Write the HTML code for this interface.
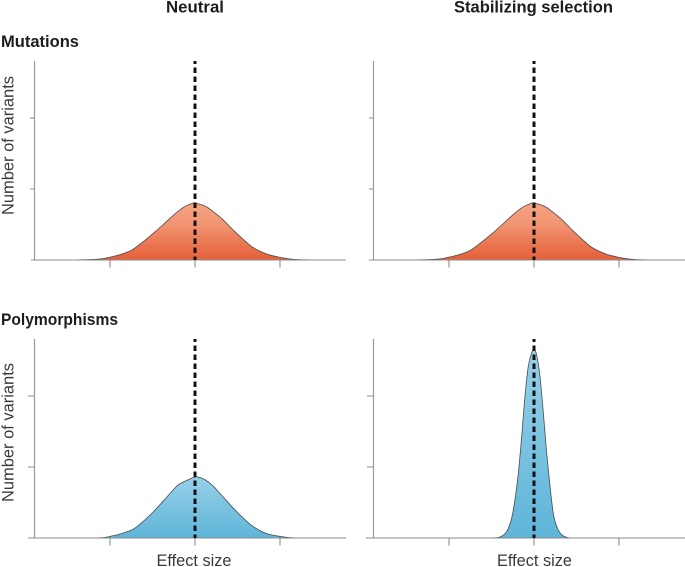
<!DOCTYPE html>
<html>
<head>
<meta charset="utf-8">
<title>Effect size distributions</title>
<style>
html,body{margin:0;padding:0;background:#fff;width:685px;height:567px;overflow:hidden}
svg{display:block}
text{font-family:"Liberation Sans",sans-serif;fill:#2b2b2b}
.head{font-weight:bold;font-size:16.5px;fill:#1d1d1b}
.lab{font-size:17px;fill:#3a3a3a}
</style>
</head>
<body>
<svg id="chart" width="685" height="567" viewBox="0 0 685 567" xmlns="http://www.w3.org/2000/svg">
  <defs>
    <linearGradient id="orangeFill" x1="0" y1="0" x2="0" y2="1">
      <stop offset="0" stop-color="#f5a382"/>
      <stop offset="0.35" stop-color="#f29674"/>
      <stop offset="1" stop-color="#e55f39"/>
    </linearGradient>
    <linearGradient id="blueFill" x1="0" y1="0" x2="0" y2="1">
      <stop offset="0" stop-color="#96d0e8"/>
      <stop offset="1" stop-color="#5fb5d9"/>
    </linearGradient>
  </defs>

  <text class="head" x="166" y="12.5" textLength="58" lengthAdjust="spacingAndGlyphs">Neutral</text>
  <text class="head" x="454" y="12.5" textLength="159" lengthAdjust="spacingAndGlyphs">Stabilizing selection</text>
  <text class="head" x="1" y="47" textLength="78" lengthAdjust="spacingAndGlyphs">Mutations</text>
  <text class="head" x="1" y="325" textLength="117" lengthAdjust="spacingAndGlyphs">Polymorphisms</text>

  <text class="lab" transform="translate(13.5,215) rotate(-90)" textLength="139" lengthAdjust="spacingAndGlyphs">Number of variants</text>
  <text class="lab" transform="translate(13.5,502) rotate(-90)" textLength="139" lengthAdjust="spacingAndGlyphs">Number of variants</text>
  <text class="lab" x="156.5" y="566" textLength="75" lengthAdjust="spacingAndGlyphs">Effect size</text>
  <text class="lab" x="497" y="566" textLength="75" lengthAdjust="spacingAndGlyphs">Effect size</text>

  <g id="panels"></g>
</svg>

<script>
// Effect-size positions (1 unit = distance between x ticks) and counts (1 unit = distance between y ticks)
const xTicks = [-1, 0, 1];
const yTicks = [1, 2];

const mutationEffects = [-1.75, -1.4, -1.118, -1, -0.882, -0.745, -0.608, -0.49, -0.373, -0.255, -0.138, -0.039, 0, 0.118, 0.215, 0.333, 0.451, 0.569, 0.686, 0.844, 1, 1.118, 1.235, 1.45, 1.75];
const mutationCounts  = [0, 0.002, 0.014, 0.04, 0.075, 0.14, 0.26, 0.376, 0.50, 0.63, 0.74, 0.795, 0.80, 0.76, 0.68, 0.563, 0.42, 0.29, 0.174, 0.085, 0.037, 0.014, 0.005, 0.001, 0];

const neutralPolyEffects = [-1.6, -1.118, -1, -0.882, -0.725, -0.608, -0.49, -0.373, -0.255, -0.196, -0.098, -0.02, 0.03, 0.118, 0.215, 0.333, 0.451, 0.569, 0.686, 0.844, 1, 1.118, 1.35, 1.7];
const neutralPolyCounts  = [0, 0.004, 0.023, 0.056, 0.125, 0.235, 0.37, 0.52, 0.68, 0.75, 0.81, 0.85, 0.86, 0.82, 0.73, 0.575, 0.42, 0.28, 0.16, 0.061, 0.023, 0.005, 0.001, 0];

const stabilizedEffects = [-0.52, -0.40, -0.32, -0.263, -0.224, -0.184, -0.145, -0.106, -0.067, -0.027, 0, 0.031, 0.07, 0.11, 0.149, 0.188, 0.227, 0.267, 0.325, 0.40, 0.5];
const stabilizedCounts  = [0, 0.014, 0.094, 0.28, 0.54, 0.915, 1.43, 2.0, 2.42, 2.61, 2.66, 2.58, 2.28, 1.76, 1.2, 0.73, 0.35, 0.164, 0.047, 0.005, 0];

const panels = [
  {name:'mutations-neutral',      xs:mutationEffects,    ys:mutationCounts,    cx:195, base:260, top:61,  axisX:34.5,  xStart:31, xEnd:346, tickLen:4.5, fill:'orangeFill'},
  {name:'mutations-stabilizing',  xs:mutationEffects,    ys:mutationCounts,    cx:534, base:260, top:61,  axisX:373.5, xStart:369,xEnd:685, tickLen:4.5, fill:'orangeFill'},
  {name:'polymorphisms-neutral',  xs:neutralPolyEffects, ys:neutralPolyCounts, cx:195, base:538, top:339, axisX:34.5,  xStart:28, xEnd:346, tickLen:6.5, fill:'blueFill'},
  {name:'polymorphisms-stabilizing', xs:stabilizedEffects, ys:stabilizedCounts, cx:534, base:538, top:339, axisX:373.5, xStart:366,xEnd:685, tickLen:6.5, fill:'blueFill'}
];

const NS = 'http://www.w3.org/2000/svg';
const X_UNIT = 85;
const Y_UNIT = 71;
const root = document.getElementById('panels');

function xScale(p, v) { return p.cx + v * X_UNIT; }
function yScale(p, v) { return p.base - v * Y_UNIT; }

function line(parent, x1, y1, x2, y2, stroke, width) {
  const l = document.createElementNS(NS, 'line');
  l.setAttribute('x1', x1);
  l.setAttribute('y1', y1);
  l.setAttribute('x2', x2);
  l.setAttribute('y2', y2);
  l.setAttribute('stroke', stroke);
  l.setAttribute('stroke-width', width);
  parent.appendChild(l);
  return l;
}

function curvePath(p) {
  const pts = p.xs.map((v, i) => [xScale(p, v), yScale(p, p.ys[i])]);
  let d = 'M' + pts[0][0].toFixed(2) + ' ' + pts[0][1].toFixed(2);
  for (let i = 0; i < pts.length - 1; i++) {
    const a = pts[Math.max(i - 1, 0)], b = pts[i], c = pts[i + 1], e = pts[Math.min(i + 2, pts.length - 1)];
    const c1x = b[0] + (c[0] - a[0]) / 6, c1y = Math.min(p.base, b[1] + (c[1] - a[1]) / 6);
    const c2x = c[0] - (e[0] - b[0]) / 6, c2y = Math.min(p.base, c[1] - (e[1] - b[1]) / 6);
    d += 'C' + c1x.toFixed(2) + ' ' + c1y.toFixed(2) + ' ' + c2x.toFixed(2) + ' ' + c2y.toFixed(2) + ' ' + c[0].toFixed(2) + ' ' + c[1].toFixed(2);
  }
  return d;
}

panels.forEach(function (p) {
  const g = document.createElementNS(NS, 'g');
  
  
  root.appendChild(g);

  const area = document.createElementNS(NS, 'path');
  
  
  area.setAttribute('d', curvePath(p) + 'Z');
  area.setAttribute('fill', 'url(#' + p.fill + ')');
  area.setAttribute('stroke', '#4a4a4a');
  area.setAttribute('stroke-width', '0.8');
  g.appendChild(area);

  const yAxis = line(g, p.axisX, p.top, p.axisX, p.base, '#9a9a9a', 1.2);
  
  

  const xAxis = line(g, p.xStart, p.base, p.xEnd, p.base, '#8c8c8c', 1);
  
  

  yTicks.forEach(function (t) {
    const tick = line(g, p.axisX - p.tickLen, yScale(p, t), p.axisX, yScale(p, t), '#8c8c8c', 1);
    
    
  });

  xTicks.forEach(function (t) {
    const tick = line(g, xScale(p, t), p.base, xScale(p, t), p.base + 7.5, '#808080', 1);
    
    
  });

  const ref = line(g, p.cx, p.top, p.cx, p.base, '#111', 3);
  ref.setAttribute('stroke-dasharray', '5.5 3.5');
  ref.setAttribute('stroke-dashoffset', '2.5');
  
  
});
</script>
</body>
</html>
